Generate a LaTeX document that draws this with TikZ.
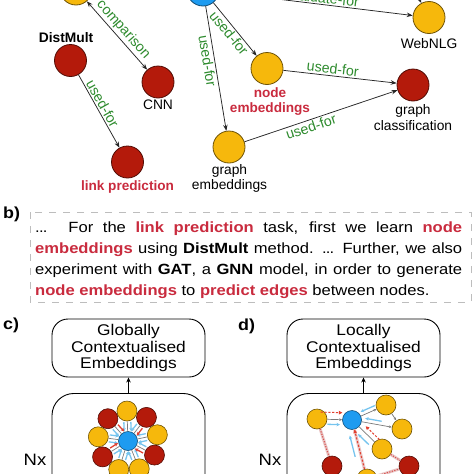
\documentclass[tikz,border=0pt]{standalone}
\usepackage{fontspec}
\setmainfont{Liberation Sans}
\newfontfamily\widefont[FakeStretch=1.12]{Liberation Sans}
\usetikzlibrary{arrows.meta,calc}
\definecolor{ora}{HTML}{F6B80C}
\definecolor{redn}{HTML}{B41A0B}
\definecolor{blun}{HTML}{1E9BF0}
\definecolor{lblue}{HTML}{76C4EE}
\definecolor{rarr}{HTML}{E2402F}
\definecolor{txtred}{HTML}{C92B3E}
\definecolor{grn}{HTML}{2E8B2E}
\definecolor{dashg}{HTML}{BDBDBD}
\definecolor{spk}{HTML}{7A7A7A}
\definecolor{pinkl}{HTML}{E9C6C6}
\definecolor{pinkr}{HTML}{D9534F}
\newcommand{\redbf}[1]{{\color{txtred}\bfseries #1}}
\newcommand{\sidearrow}[7]{\draw[#1] ($(#2)!#4!(#3)!#6!#7:(#3)$) -- ($(#2)!#5!(#3)!#6!#7:(#3)$);}
\begin{document}
\begin{tikzpicture}[x=1pt,y=-1pt,
 >={Stealth[length=6pt,width=4.5pt]},
 bigc/.style={circle,minimum size=32pt,inner sep=0pt,line width=0.8pt},
 onode/.style={bigc,fill=ora,draw=ora!45!black},
 rnode/.style={bigc,fill=redn,draw=redn!45!black},
 bnode/.style={bigc,fill=blun,draw=blun!50!black},
 smc/.style={circle,minimum size=20pt,inner sep=0pt,line width=0.6pt},
 sonode/.style={smc,fill=ora,draw=ora!45!black},
 srnode/.style={smc,fill=redn,draw=redn!45!black},
 sbnode/.style={smc,minimum size=19pt,fill=blun,draw=blun!50!black},
 nlab/.style={inner sep=0pt,font=\fontsize{13.8}{16}\selectfont,anchor=base},
 rlab/.style={nlab,text=txtred,font=\fontsize{13.6}{16}\selectfont\bfseries},
 elab/.style={font=\fontsize{14.2}{16}\selectfont,text=grn,sloped,inner sep=1.5pt},
 lnk/.style={line width=0.75pt,draw=black!85},
 btext/.style={inner sep=0pt,anchor=base west,font=\widefont\fontsize{14.8}{21}\selectfont},
 plab/.style={inner sep=0pt,anchor=base west,font=\widefont\fontsize{16}{18}\selectfont\bfseries},
 ebox/.style={draw,line width=0.9pt,rounded corners=16pt,minimum width=153pt,minimum height=58pt,align=center,inner sep=0pt,font=\widefont\fontsize{15.5}{16.4}\selectfont},
 lbox/.style={draw,line width=0.9pt,rounded corners=22pt,minimum width=153pt,minimum height=150pt,anchor=north,inner sep=0pt},
 nx/.style={inner sep=0pt,anchor=base,font=\widefont\fontsize{16.5}{18}\selectfont},
 uparrow/.style={line width=1pt,-{Stealth[length=5pt,width=4.5pt]}},
 sarr/.style={line width=1.3pt,-{Stealth[length=3.5pt,width=3.5pt]}},
 spoke/.style={draw=spk,line width=0.7pt},
 tspoke/.style={spoke,-{Stealth[length=3pt,width=2.5pt]}},
 rdash/.style={draw=rarr,line width=1pt,dash pattern=on 2.2pt off 1.6pt,-{Triangle[length=3.5pt,width=3.5pt]}},
 pband/.style={draw=pinkl,line width=3pt},
 pdot/.style={draw=pinkr,line width=1.1pt,dash pattern=on 1.2pt off 1.4pt},
 boxdash/.style={draw=dashg,line width=0.9pt,dash pattern=on 7pt off 7pt},
]
\useasboundingbox (0,0) rectangle (474,474);
\clip (0,0) rectangle (474,474);

% ---------- a) knowledge graph ----------
\node[onode] (o1) at (76,-11) {};
\node[bnode] (b1) at (203,-10) {};
\node[onode] (web) at (429,17.5) {};
\node[rnode] (cnn) at (158,82) {};
\node[rnode] (dm) at (70.5,60.5) {};
\node[rnode] (lp) at (127.5,162) {};
\node[onode] (ne) at (267,68.5) {};
\node[onode] (ge) at (229,147) {};
\node[rnode] (gc) at (413,85) {};
\coordinate (wtop) at (405,-28);

\node[nlab] (webl) at (429,48) {WebNLG};
\node[nlab] (cnnl) at (158,109) {CNN};
\node[nlab,font=\fontsize{13.8}{16}\selectfont\bfseries] (dml) at (66,42) {DistMult};
\node[rlab] (lpl) at (127.5,190) {link prediction};
\node[rlab] (nel1) at (270,97) {node};
\node[rlab] (nel2) at (270,112) {embeddings};
\node[nlab] (gcl1) at (413,114.5) {graph};
\node[nlab] (gcl2) at (413,130) {classification};
\node[nlab] (gel1) at (229.5,174) {graph};
\node[nlab] (gel2) at (229.5,189) {embeddings};

\draw[lnk,<->] (o1) -- node[elab,above] (lcmp) {comparison} (cnn);
\draw[lnk,->] (dm) -- node[elab,above,pos=0.44] (l1) {used-for} (lp);
\draw[lnk,->] (b1) -- node[elab,below,pos=0.49] (l2) {used-for} (ne);
\draw[lnk,->] (b1) -- node[elab,below,pos=0.43] (l3) {used-for} (ge);
\draw[lnk,->] (ne) -- node[elab,above,pos=0.43] (l4) {used-for} (gc);
\draw[lnk,->] (ge) -- node[elab,below,pos=0.42] (l5) {used-for} (gc);
\draw[lnk,->] (b1) -- node[elab,above,pos=0.526,inner sep=1pt] (l6) {evaluate-for} (web);
\draw[lnk,->] (wtop) -- (web);

% ---------- b) text ----------
\node[plab] (blab) at (3,218) {b)};
\draw[boxdash] (30,212) rectangle (471,302);
\node[btext] (t1) at (35,232) {\makebox[427pt][s]{.\kern-0.8pt.\kern-0.8pt. For the \redbf{link prediction} task, first we learn \redbf{node}}};
\node[btext] (t2) at (35,253) {\makebox[427pt][s]{\redbf{embeddings} using \textbf{DistMult} method. .\kern-0.8pt.\kern-0.8pt. Further, we also}};
\node[btext] (t3) at (35,274) {\makebox[427pt][s]{experiment with \textbf{GAT}, a \textbf{GNN} model, in order to generate}};
\node[btext] (t4) at (35,295) {\redbf{node embeddings} to \redbf{predict edges} between nodes.};

% ---------- c) global ----------
\node[plab] (clab) at (3,329) {c)};
\node[ebox] (cg) at (128.5,348) {Globally\\Contextualised\\Embeddings};
\node[lbox] (cl) at (128.5,393) {};
\draw[uparrow] (cl.north) -- (cg.south);
\node[nx] (cn) at (35,465) {Nx};
\node[sbnode] (cb) at (128,441) {};
\foreach \a/\cl/\k [count=\i] in {12/ora/lblue,52/redn/rarr,92/ora/lblue,132/redn/rarr,172/ora/lblue,212/redn/rarr,252/ora/lblue,292/ora/lblue,332/redn/rarr}{
  \node[smc,fill=\cl,draw=\cl!45!black] (n\i) at ({128+30*cos(\a)},{441-30*sin(\a)}) {};
  \draw[spoke] (n\i) -- (cb);
  \sidearrow{sarr,draw=\k}{n\i}{cb}{0.37}{0.68}{3.5pt}{90}
  \sidearrow{sarr,draw=lblue}{n\i}{cb}{0.37}{0.68}{3.5pt}{-90}
}

% ---------- d) local ----------
\node[plab] (dlab) at (238,330) {d)};
\node[ebox] (dg1) at (363.5,348) {Locally\\Contextualised\\Embeddings};
\node[lbox] (dl) at (363.5,393) {};
\draw[uparrow] (dl.north) -- (dg1.south);
\node[nx] (dn) at (270,465) {Nx};

\node[sbnode] (d0) at (352,420) {};
\node[sonode] (da) at (317,419) {};
\node[sonode] (db) at (386,405) {};
\node[sonode] (dc) at (402,429) {};
\node[sonode] (dd) at (382,449) {};
\node[srnode] (de) at (409,466) {};
\node[srnode] (df) at (332,466) {};
\node[sonode] (dg) at (367,479) {};

\draw[pband] (da) -- (df); \draw[pdot] (da) -- (df);
\draw[pband] (dd) -- (de); \draw[pdot] (dd) -- (de);
\draw[pband] (dg) -- (de); \draw[pdot] (dg) -- (de);
\draw[pband] (dg) -- (d0); \draw[rdash] (dg) -- (d0);

\draw[tspoke] (da) -- (d0);
\draw[tspoke] (d0) -- (db);
\draw[tspoke] (d0) -- (dc);
\draw[tspoke] (db) -- (dc);
\draw[spoke] (d0) -- (dd);

\sidearrow{rdash}{da}{d0}{0.1}{0.72}{7pt}{90}
\sidearrow{sarr,draw=lblue}{da}{d0}{0.3}{0.66}{5pt}{-90}
\sidearrow{sarr,draw=lblue}{db}{d0}{0.28}{0.7}{4pt}{-90}
\sidearrow{sarr,draw=lblue}{dc}{d0}{0.42}{0.75}{4pt}{-90}
\sidearrow{rdash}{dd}{d0}{0.2}{0.66}{5pt}{-90}
\sidearrow{sarr,draw=lblue}{dd}{d0}{0.3}{0.66}{6pt}{90}
\sidearrow{sarr,draw=lblue}{dg}{d0}{0.4}{0.76}{6pt}{90}
\end{tikzpicture}
\end{document}
